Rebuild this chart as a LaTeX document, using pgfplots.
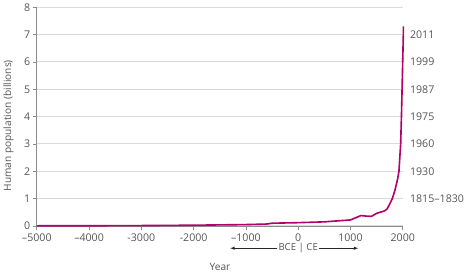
\documentclass[border=0pt]{standalone}
\usepackage{pgfplots}
\pgfplotsset{compat=1.18}
\usepackage{fontspec}
\setmainfont{Open Sans}
\definecolor{curve}{RGB}{178,0,108}
\definecolor{txt}{RGB}{85,85,85}
\definecolor{axc}{RGB}{140,140,140}
\definecolor{grd}{RGB}{218,218,218}
\tikzset{rl/.style={anchor=west, font=\fontsize{10.5}{12}\selectfont, text=txt, inner sep=0pt, xshift=6.5pt}}
\begin{document}
\begin{tikzpicture}
\begin{axis}[
  scale only axis, width=362pt, height=216pt,
  xmin=-5000, xmax=2010, ymin=0, ymax=8,
  axis lines=left, axis line style={-, axc, line width=0.8pt},
  xtick={-5000,-4000,-3000,-2000,-1000,0,1000,2000},
  xticklabels={–5000,–4000,-3000,-2000,–1000,0,1000,2000},
  ytick={0,1,2,3,4,5,6,7,8},
  ymajorgrids, grid style={grd, line width=0.9pt},
  tick align=outside, major tick length=4pt,
  tick style={axc, line width=0.8pt},
  tick label style={font=\fontsize{10.5}{12}\selectfont, text=txt},
  yticklabel style={xshift=1pt},
  label style={font=\fontsize{10}{12}\selectfont, text=txt},
  /pgf/number format/assume math mode=true,
  xlabel={Year}, ylabel={Human population (billions)},
  xlabel style={at={(axis description cs:0.5,0)}, anchor=center, yshift=-40pt},
  ylabel style={at={(axis description cs:0,0.5)}, anchor=center, yshift=28pt, xshift=-9pt},
  clip=false,
]
\addplot[curve, line width=1.6pt] coordinates {
(-5000,0.005) (-4000,0.007) (-3000,0.014) (-2000,0.027) (-1000,0.05)
(-600,0.07) (-500,0.1) (0,0.12) (500,0.15) (1000,0.22) (1100,0.3)
(1200,0.38) (1300,0.36) (1400,0.35) (1500,0.46) (1600,0.52) (1650,0.55)
(1700,0.62) (1750,0.8) (1800,1.0) (1850,1.3) (1900,1.7) (1927,2.0)
(1960,3.0) (1975,4.0) (1987,5.0) (1999,6.0) (2011,7.0) (2013,7.3)
};
\node[rl] at (axis cs:2010,1) {1815–1830};
\node[rl] at (axis cs:2010,2) {1930};
\node[rl] at (axis cs:2010,3) {1960};
\node[rl] at (axis cs:2010,4) {1975};
\node[rl] at (axis cs:2010,5) {1987};
\node[rl] at (axis cs:2010,6) {1999};
\node[rl] at (axis cs:2010,7) {2011};
\node[font=\fontsize{9.5}{11}\selectfont, text=txt, inner sep=1pt] (bce) at ([yshift=-22pt]axis cs:0,0) {BCE | CE};
\draw[-latex, black!85, line width=0.5pt] (bce.west) -- ([yshift=-22pt]axis cs:-1300,0);
\draw[-latex, black!85, line width=0.5pt] (bce.east) -- ([yshift=-22pt]axis cs:1150,0);
\end{axis}
\end{tikzpicture}
\end{document}
